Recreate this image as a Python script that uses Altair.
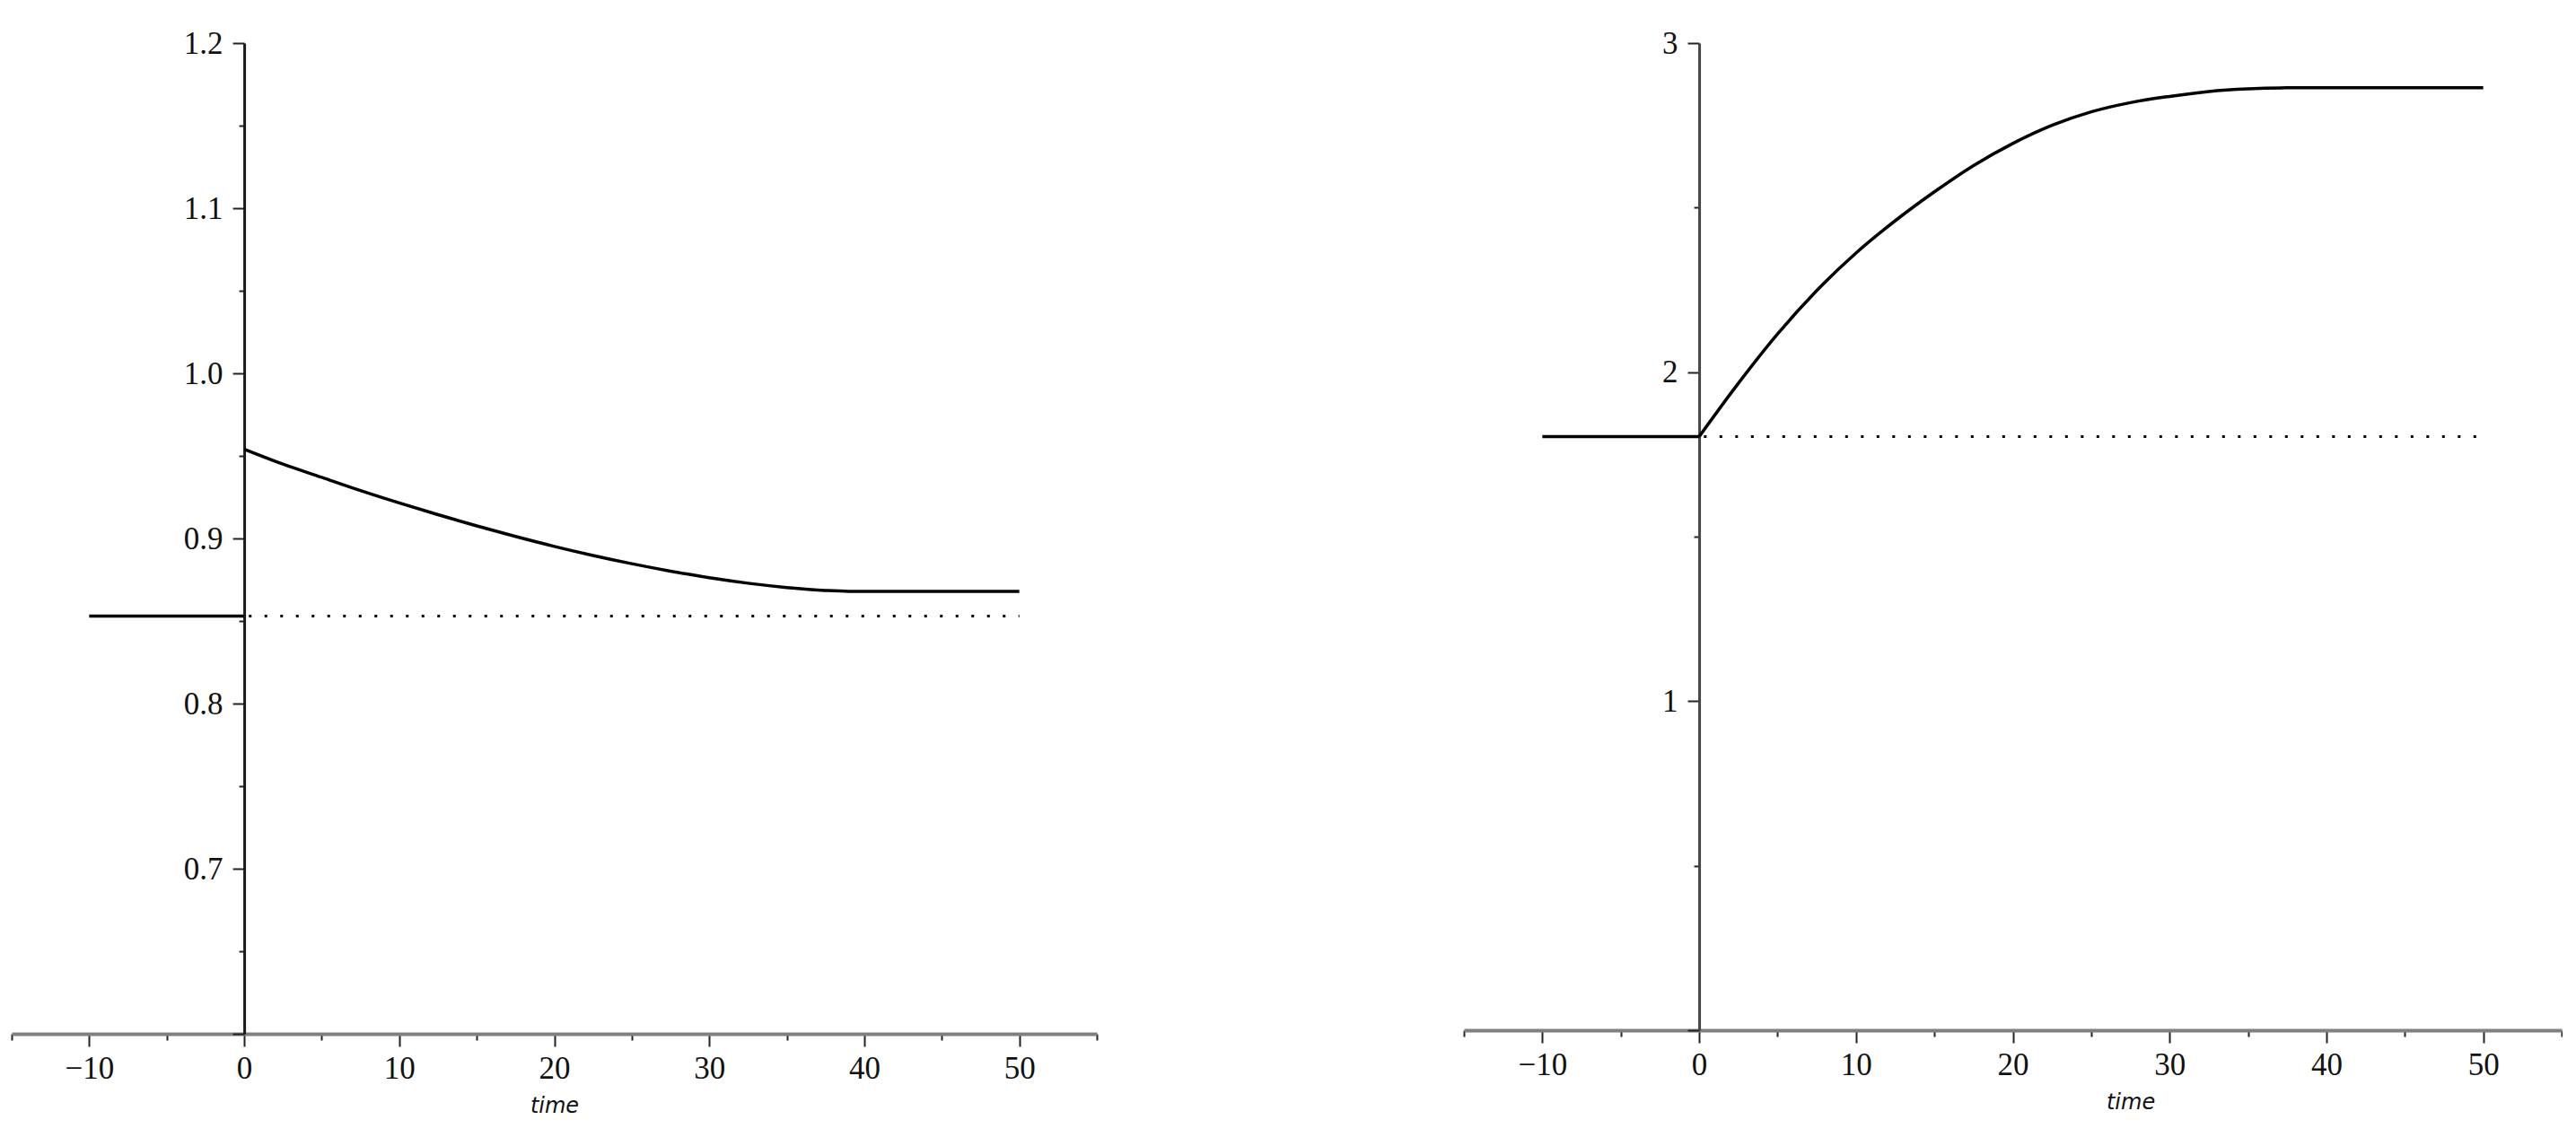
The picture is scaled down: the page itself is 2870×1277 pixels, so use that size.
import altair as alt
import pandas as pd

# ---------------- data ----------------
x_ticks = [-15, -10, -5, 0, 5, 10, 15, 20, 25, 30, 35, 40, 45, 50, 55]

# left panel
left_pre_t = [-10, 0]
left_pre_y = [0.853, 0.853]
left_t = [0, 2.5, 5, 7.5, 10, 12.5, 15, 17.5, 20, 22.5, 25, 27.5, 30, 32.5, 35, 37.5, 39, 50]
left_y = [0.954, 0.945, 0.937, 0.929, 0.9215, 0.9144, 0.9076, 0.9012, 0.8952, 0.8897,
          0.8847, 0.8802, 0.8762, 0.8729, 0.8703, 0.8685, 0.868, 0.868]
left_base_t = [0.3, 50]
left_base_y = [0.853, 0.853]
left_y_ticks = [0.6, 0.65, 0.7, 0.75, 0.8, 0.85, 0.9, 0.95, 1.0, 1.05, 1.1, 1.15, 1.2]

# right panel
right_pre_t = [-10, 0]
right_pre_y = [1.804, 1.804]
right_t = [0, 2.5, 5, 7.5, 10, 12.5, 15, 17.5, 20, 22.5, 25, 27.5, 30, 32.5, 35, 37.5, 40, 50]
right_y = [1.804, 1.966, 2.116, 2.248, 2.362, 2.46, 2.548, 2.628, 2.695, 2.75,
           2.791, 2.819, 2.838, 2.853, 2.861, 2.864, 2.864, 2.864]
right_base_t = [0.3, 50]
right_base_y = [1.804, 1.804]
right_y_ticks = [0, 0.5, 1, 1.5, 2, 2.5, 3]


def frame(pre_t, pre_y, t, y, base_t, base_y):
    rows = []
    rows += [{"t": a, "v": b, "seg": "pre"} for a, b in zip(pre_t, pre_y)]
    rows += [{"t": a, "v": b, "seg": "post"} for a, b in zip(t, y)]
    rows += [{"t": a, "v": b, "seg": "base"} for a, b in zip(base_t, base_y)]
    return pd.DataFrame(rows)


LABEL_FONT = "Liberation Serif"


def panel(df, ydom, yvals, major_test, label_expr, yfmt, width, height,
          ydomain_color, title_x=None):
    xaxis_kw = dict(
        values=x_ticks,
        labelExpr="datum.value % 10 === 0 ? datum.label : ''",
        tickSize={"condition": {"test": "datum.value % 10 === 0", "value": 14}, "value": 7},
        tickColor="#222222", tickWidth=2,
        domainColor="#808080", domainWidth=4,
        labelFont=LABEL_FONT, labelFontSize=35, labelColor="#111111",
        labelPadding=7, labelFlush=False, labelOverlap=False,
        title="time", titleFont="DejaVu Sans", titleFontStyle="italic",
        titleFontWeight="normal", titleFontSize=24, titleColor="#111111",
        titleBaseline="alphabetic", titleY=87,
        grid=False,
    )
    if title_x is not None:
        xaxis_kw["titleX"] = title_x
    xaxis = alt.Axis(**xaxis_kw)
    yaxis = alt.Axis(
        values=yvals,
        format=yfmt,
        labelExpr=label_expr,
        tickSize={"condition": {"test": major_test, "value": 13}, "value": 6},
        tickColor="#222222", tickWidth=2,
        domainColor=ydomain_color, domainWidth=3,
        labelFont=LABEL_FONT, labelFontSize=35, labelColor="#111111",
        labelPadding=11, labelOverlap=False, labelFlush=False,
        offset=-(15.0 / 70.0) * width,
        title=None, grid=False,
    )

    base = alt.Chart(df).encode(
        x=alt.X("t:Q", scale=alt.Scale(domain=[-15, 55], nice=False, zero=False), axis=xaxis),
        y=alt.Y("v:Q", scale=alt.Scale(domain=ydom, nice=False, zero=False), axis=yaxis),
        detail="seg:N",
    )
    solid = base.transform_filter("datum.seg !== 'base'").mark_line(
        color="#000000", strokeWidth=3.5, interpolate="monotone"
    )
    dotted = base.transform_filter("datum.seg === 'base'").mark_line(
        color="#000000", strokeWidth=3, strokeDash=[3, 14.5], strokeCap="butt"
    )
    return alt.layer(dotted, solid).properties(width=width, height=height)


left_df = frame(left_pre_t, left_pre_y, left_t, left_y, left_base_t, left_base_y)
right_df = frame(right_pre_t, right_pre_y, right_t, right_y, right_base_t, right_base_y)

left_major = "abs(datum.value * 10 - round(datum.value * 10)) < 0.001"
left = panel(
    left_df, [0.6, 1.2], left_y_ticks, left_major,
    "(" + left_major + ") && datum.value > 0.61 ? datum.label : ''", ".1f",
    1209, 1104, "#1a1a1a",
)

right_major = "abs(datum.value - round(datum.value)) < 0.001"
right = panel(
    right_df, [0, 3], right_y_ticks, right_major,
    "(" + right_major + ") && datum.value > 0.01 ? datum.label : ''", ".0f",
    1223, 1100, "#444444", title_x=(27.5 + 15) / 70.0 * 1223,
)

chart = (
    alt.hconcat(left, right, spacing=407)
    .properties(padding={"left": 4, "top": 23, "right": 0, "bottom": 0}, background="white")
    .configure_view(stroke=None)
)

chart.save("out.html", embed_options={"renderer": "svg", "actions": False})
